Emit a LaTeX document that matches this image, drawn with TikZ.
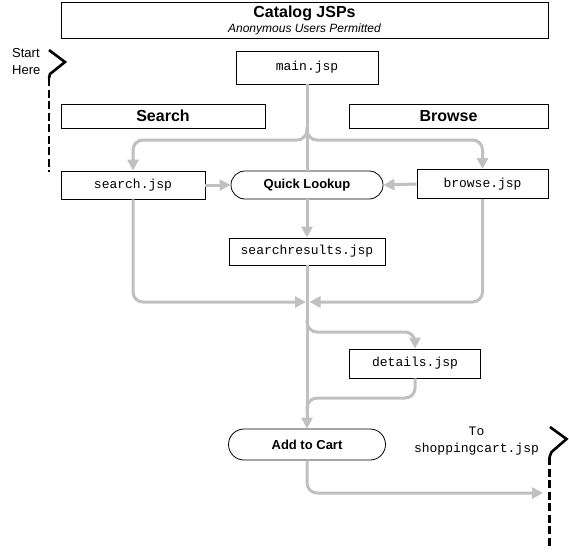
\documentclass[tikz,border=0pt]{standalone}
\usepackage{fontspec}
\setmainfont{Liberation Sans}
\setmonofont{Liberation Mono}
\usetikzlibrary{arrows.meta}
\definecolor{linegray}{HTML}{C0C0C0}
\begin{document}
\begin{tikzpicture}[x=1pt,y=-1pt,
  box/.style={draw, line width=0.8pt, inner sep=0pt, font=\ttfamily\fontsize{13}{15}\selectfont},
  hdr/.style={draw, line width=0.8pt, inner sep=0pt, font=\bfseries\fontsize{16}{18}\selectfont},
  pill/.style={draw, line width=0.8pt, inner sep=0pt, font=\bfseries\fontsize{13}{15}\selectfont},
  conn/.style={draw=linegray, line width=3pt, rounded corners=10pt},
  arr/.style={conn, -{Triangle[length=11pt,width=11pt]}},
  marker/.style={line width=2.6pt, black},
  markerdash/.style={marker, dash pattern=on 8pt off 3.5pt},
  plain/.style={inner sep=0pt, font=\fontsize{13}{17}\selectfont}
]
\useasboundingbox (0,0) rectangle (569,552);

% title
\node[draw, line width=0.8pt, inner sep=0pt, minimum width=487pt, minimum height=36pt,
      align=center, font=\fontsize{12}{15}\selectfont] (title) at (304.5,20)
  {{\bfseries\fontsize{16}{18}\selectfont Catalog JSPs}\\{\itshape Anonymous Users Permitted}};

% nodes
\node[box, minimum width=142pt, minimum height=33pt] (main) at (307,67.5) {main.jsp};
\node[hdr, minimum width=204pt, minimum height=24pt] (searchhdr) at (163,116) {Search};
\node[hdr, minimum width=199pt, minimum height=24pt] (browsehdr) at (448.5,116) {Browse};
\node[box, minimum width=144pt, minimum height=28pt] (search) at (133,185) {search.jsp};
\node[pill, rounded corners=14pt, minimum width=152pt, minimum height=28pt] (ql) at (307,185) {Quick Lookup};
\node[box, minimum width=131pt, minimum height=29pt] (browse) at (482.5,184) {browse.jsp};
\node[box, minimum width=156pt, minimum height=27pt] (sr) at (307,251.5) {searchresults.jsp};
\node[box, minimum width=131pt, minimum height=29pt] (details) at (415,363.5) {details.jsp};
\node[pill, rounded corners=15.5pt, minimum width=157pt, minimum height=31pt] (cart) at (307,444.5) {Add to Cart};

% texts
\node[plain, align=left, anchor=west] (start) at (12,62) {Start\\Here};
\node[plain, align=center, font=\ttfamily\fontsize{13}{17}\selectfont] (tocart) at (476.5,441) {To\\shoppingcart.jsp};

% helper coordinates
\coordinate (bsplit) at (307,127);
\coordinate (bh) at (307,140);
\coordinate (mergeL) at (306,302);
\coordinate (mergeR) at (309.5,302);
\coordinate (dsplit) at (307,320);
\coordinate (dh) at (307,332);
\coordinate (dret) at (307,398);
\coordinate (djoin) at (307,414);
\coordinate (cartout) at (543,493);

% connectors
\draw[conn] (main.south) -- (ql.north);
\draw[arr] (bsplit) |- (search.north |- bh) -- (search.north);
\draw[arr] (bsplit) |- (browse.north |- bh) -- (browse.north);
\draw[arr] (search.east) -- (ql.west);
\draw[arr] (browse.west) -- (ql.east);
\draw[arr] (ql.south) -- (sr.north);
\draw[arr] (search.south) |- (mergeL);
\draw[arr] (browse.south) |- (mergeR);
\draw[arr] (sr.south) -- (cart.north);
\draw[arr] (dsplit) |- (details.north |- dh) -- (details.north);
\draw[conn] (details.south) |- (dret) -- (djoin);
\draw[arr] (cart.south) |- (cartout);

% start / end markers
\coordinate (s1) at (49,50);
\coordinate (s2) at (65,62);
\coordinate (s3) at (50,74);
\coordinate (s4) at (49,78);
\coordinate (s5) at (49,172);
\draw[marker] (s1) -- (s2) -- (s3) -- (s4);
\draw[markerdash] (s4) -- (s5);
\coordinate (e1) at (550,427);
\coordinate (e2) at (566.5,439);
\coordinate (e3) at (551.5,452);
\coordinate (e4) at (549.5,457);
\coordinate (e5) at (549.5,548);
\draw[marker] (e1) -- (e2) -- (e3) -- (e4);
\draw[markerdash] (e4) -- (e5);
\end{tikzpicture}
\end{document}
